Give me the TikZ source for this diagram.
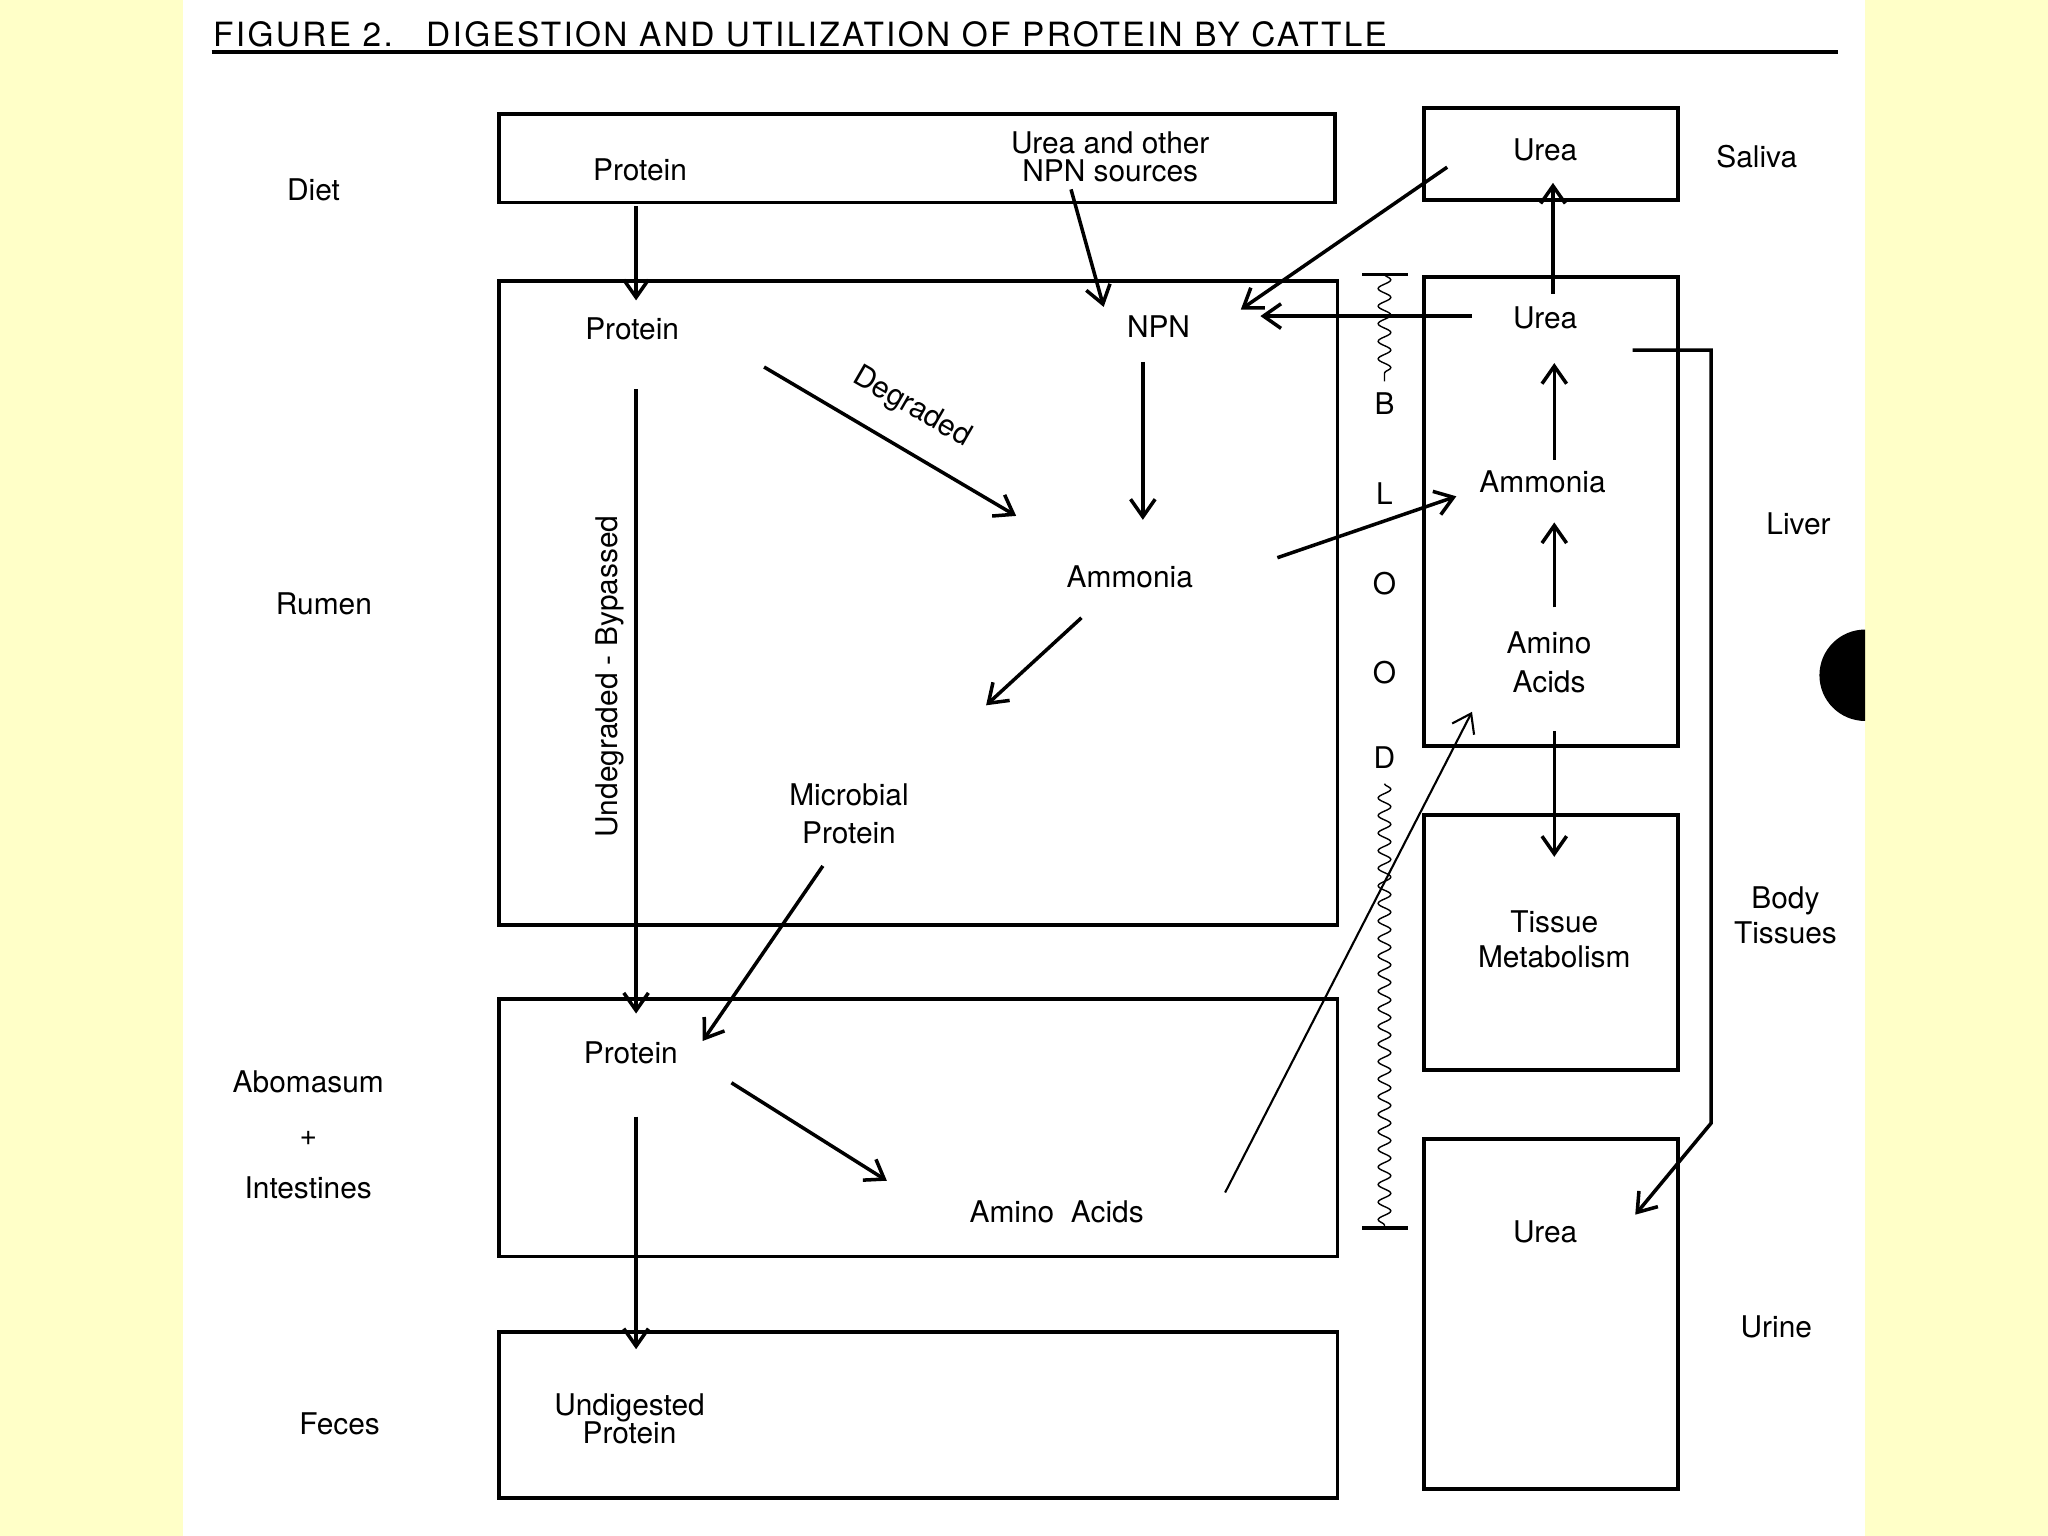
\documentclass[tikz,border=0pt]{standalone}
\usepackage{fontspec}
\setmainfont{TeX Gyre Heros}
\usetikzlibrary{arrows.meta,decorations.pathmorphing}
\definecolor{paper}{HTML}{FFFFC8}
\tikzset{
  box/.style={draw,line width=1.1pt},
  lbl/.style={font=\fontsize{8.5}{10}\selectfont,align=center,inner sep=1pt},
  flow/.style={draw,line width=1pt,-{Straight Barb[length=5pt,width=7pt]}},
  wave/.style={decorate,decoration={snake,amplitude=1.8pt,segment length=5pt}},
}
\begin{document}
\begin{tikzpicture}[x=0.01306cm,y=-0.01306cm]
\useasboundingbox (0,0) rectangle (1568,1176);
\fill[paper] (0,0) rectangle (1568,1176);
\fill[white] (140,0) rectangle (1428,1176);
\begin{scope}
\clip (1380,470) rectangle (1428,570);
\fill[black] (1428,517) circle[radius=35];
\end{scope}

%title
\node[lbl,anchor=west,font=\fontsize{9.5}{11}\selectfont\addfontfeatures{LetterSpace=7}] (title) at (160,26) {FIGURE 2.\quad DIGESTION AND UTILIZATION OF PROTEIN BY CATTLE};
\draw[line width=1pt] (162,40) -- (1407,40);

%boxes
\draw[box] (382,87) rectangle (1022,155);
\draw[box] (1090,83) rectangle (1285,153);
\draw[box] (382,215) rectangle (1024,708);
\draw[box] (1090,212) rectangle (1285,571);
\draw[box] (1090,624) rectangle (1285,819);
\draw[box] (382,765) rectangle (1024,962);
\draw[box] (1090,872) rectangle (1285,1140);
\draw[box] (382,1020) rectangle (1024,1147);

%side labels
\node[lbl] (diet) at (240,145) {Diet};
\node[lbl] (rumen) at (248,462) {Rumen};
\node[lbl] (abom) at (236,869) {Abomasum\\[5pt]+\\[5pt]Intestines};
\node[lbl] (feces) at (260,1090) {Feces};
\node[lbl] (saliva) at (1345,120) {Saliva};
\node[lbl] (liver) at (1377,401) {Liver};
\node[lbl] (body) at (1367,701) {Body\\Tissues};
\node[lbl] (urine) at (1360,1016) {Urine};

%blood
\draw[line width=1pt] (1043,210) -- (1078,210);
\draw[line width=1pt] (1043,940) -- (1078,940);
\draw[wave] (1060,210) -- (1060,292);
\draw[wave] (1060,600) -- (1060,940);
\foreach \ch/\y in {B/309,L/378,O/447,O/515,D/580}
  \node[lbl] at (1060,\y) {\ch};

%inner labels
\node[lbl] (dprot) at (490,130) {Protein};
\node[lbl] (npnsrc) at (850,120) {Urea and other\\[-2pt]NPN sources};
\node[lbl] (surea) at (1183,115) {Urea};
\node[lbl] (rprot) at (484,252) {Protein};
\node[lbl] (npn) at (887,250) {NPN};
\node[lbl] (lurea) at (1183,243) {Urea};
\node[lbl,rotate=-30] (degr) at (698,312) {Degraded};
\node[lbl] (ramm) at (865,442) {Ammonia};
\node[lbl] (lamm) at (1181,369) {Ammonia};
\node[lbl] (laa) at (1186,507) {Amino\\[1pt]Acids};
\node[lbl,rotate=90] (bypass) at (467,518) {Undegraded - Bypassed};
\node[lbl] (micro) at (650,623) {Microbial\\[1pt]Protein};
\node[lbl] (tissue) at (1190,719) {Tissue\\Metabolism};
\node[lbl] (aprot) at (483,806) {Protein};
\node[lbl] (aaa) at (809,928) {Amino\ \ Acids};
\node[lbl] (uurea) at (1183,943) {Urea};
\node[lbl] (undig) at (482,1086) {Undigested\\[-2pt]Protein};

%arrows
\draw[flow] (487,158) -- (487,230);
\draw[flow] (820,145) -- (845,235);
\draw[flow] (1108,128) -- (950,237);
\draw[flow] (1127,242) -- (965,242);
\draw[flow] (1189,225) -- (1189,140);
\draw[flow] (585,281) -- (778,395);
\draw[flow] (875,277) -- (875,398);
\draw[flow] (978,427) -- (1115,380);
\draw[flow] (828,473) -- (755,540);
\draw[flow] (487,298) -- (487,776);
\draw[flow] (630,663) -- (538,797);
\draw[flow] (1190,352) -- (1190,278);
\draw[flow] (1190,465) -- (1190,400);
\draw[flow] (1190,560) -- (1190,656);
\draw[flow] (1250,268) -- (1310,268) -- (1310,860) -- (1252,930);
\draw[flow] (560,829) -- (679,904);
\draw[flow,line width=0.6pt] (938,913) -- (1127,545);
\draw[flow] (487,855) -- (487,1033);
\end{tikzpicture}
\end{document}
